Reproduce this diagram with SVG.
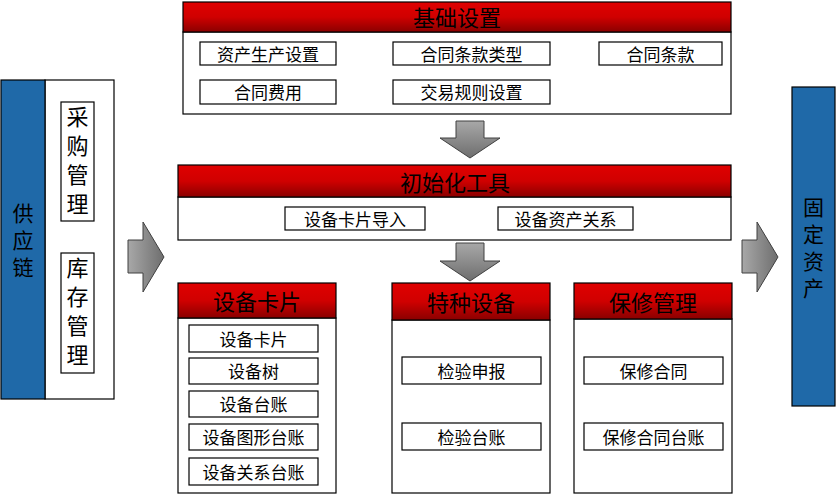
<svg xmlns="http://www.w3.org/2000/svg" width="836" height="496" viewBox="0 0 836 496">
<defs>
<linearGradient id="red" x1="0" y1="0" x2="0" y2="1">
<stop offset="0" stop-color="#e00000"/>
<stop offset="0.5" stop-color="#d00000"/>
<stop offset="1" stop-color="#8a0000"/>
</linearGradient>
<linearGradient id="grayV" x1="0" y1="0" x2="0" y2="1">
<stop offset="0" stop-color="#a8a8a8"/>
<stop offset="1" stop-color="#6e6e6e"/>
</linearGradient>
<linearGradient id="grayH" x1="0" y1="0" x2="1" y2="0">
<stop offset="0" stop-color="#a8a8a8"/>
<stop offset="1" stop-color="#6e6e6e"/>
</linearGradient>
</defs>
<style>
text{font-family:"Noto Sans CJK SC","Noto Sans",sans-serif;fill:#000;text-anchor:middle;dominant-baseline:central}
.hdr{fill:url(#red);stroke:#000;stroke-width:1.2}
.body{fill:#fff;stroke:#000;stroke-width:1.2}
.item{fill:#fff;stroke:#000;stroke-width:1.2}
.blue{fill:#1f69a8;stroke:#000;stroke-width:1.2}
.ht{font-size:22px}
.it{font-size:17px}
.vt{font-size:21px;writing-mode:vertical-rl;letter-spacing:6px}
.vt2{font-size:22px;writing-mode:vertical-rl;letter-spacing:7px}
.arrV{fill:url(#grayV);stroke:#404040;stroke-width:1}
.arrH{fill:url(#grayH);stroke:#404040;stroke-width:1}
</style>
<rect width="836" height="496" fill="#fff"/>

<g id="connectors">
<polygon class="arrV" points="456,121 484,121 484,138 500,138 470,158 440,138 456,138"/>
<polygon class="arrV" points="456,243 484,243 484,261 500,261 470,281 440,261 456,261"/>
<polygon class="arrH" points="128,240 143,240 143,222 164,257 143,292 143,273 128,273"/>
<polygon class="arrH" points="742,240 757,240 757,222 778,257 757,292 757,273 742,273"/>
</g>

<g id="basic-settings">
<rect class="body" x="183" y="32" width="548" height="82"/>
<rect class="hdr" x="183" y="2" width="548" height="30"/>
<text class="ht" x="457" y="16">基础设置</text>
<rect class="item" x="200" y="42" width="136" height="23"/><text class="it" x="268" y="53">资产生产设置</text>
<rect class="item" x="393" y="42" width="157" height="23"/><text class="it" x="471.5" y="53">合同条款类型</text>
<rect class="item" x="599" y="42" width="123" height="23"/><text class="it" x="660.5" y="53">合同条款</text>
<rect class="item" x="200" y="80" width="136" height="24"/><text class="it" x="268" y="91.5">合同费用</text>
<rect class="item" x="393" y="80" width="157" height="24"/><text class="it" x="471.5" y="91.5">交易规则设置</text>
</g>

<g id="init-tools">
<rect class="body" x="178" y="197" width="553" height="43"/>
<rect class="hdr" x="178" y="165" width="553" height="32"/>
<text class="ht" x="455" y="180.5">初始化工具</text>
<rect class="item" x="285" y="207" width="140" height="23"/><text class="it" x="355" y="218">设备卡片导入</text>
<rect class="item" x="498" y="207" width="135" height="23"/><text class="it" x="565.5" y="218">设备资产关系</text>
</g>

<g id="supply-chain">
<rect class="body" x="45" y="80" width="69" height="319"/>
<rect class="blue" x="1" y="80" width="44" height="319"/>
<text class="vt" x="23" y="243">供应链</text>
<rect class="item" x="61" y="102" width="33" height="119"/>
<text class="vt2" x="77.5" y="164">采购管理</text>
<rect class="item" x="61" y="253" width="33" height="120"/>
<text class="vt2" x="77.5" y="315">库存管理</text>
</g>

<g id="fixed-assets">
<rect class="blue" x="792" y="87" width="43" height="319"/>
<text class="vt" x="813.5" y="251">固定资产</text>
</g>

<g id="device-card">
<rect class="body" x="178" y="318" width="158" height="175"/>
<rect class="hdr" x="178" y="283" width="158" height="35"/>
<text class="ht" x="257" y="300">设备卡片</text>
<rect class="item" x="189" y="325" width="129" height="27"/><text class="it" x="253.5" y="338">设备卡片</text>
<rect class="item" x="189" y="358" width="129" height="26"/><text class="it" x="253.5" y="370.5">设备树</text>
<rect class="item" x="189" y="391" width="129" height="26"/><text class="it" x="253.5" y="403.5">设备台账</text>
<rect class="item" x="189" y="424" width="129" height="26"/><text class="it" x="253.5" y="436.5">设备图形台账</text>
<rect class="item" x="189" y="458" width="129" height="27"/><text class="it" x="253.5" y="471">设备关系台账</text>
</g>

<g id="special-equipment">
<rect class="body" x="392" y="320" width="158" height="173"/>
<rect class="hdr" x="392" y="283" width="158" height="37"/>
<text class="ht" x="471" y="301">特种设备</text>
<rect class="item" x="402" y="357" width="139" height="27"/><text class="it" x="471.5" y="370">检验申报</text>
<rect class="item" x="402" y="423" width="139" height="27"/><text class="it" x="471.5" y="436">检验台账</text>
</g>

<g id="warranty">
<rect class="body" x="574" y="319" width="158" height="174"/>
<rect class="hdr" x="574" y="283" width="158" height="36"/>
<text class="ht" x="653" y="301">保修管理</text>
<rect class="item" x="584" y="357" width="139" height="27"/><text class="it" x="653.5" y="370">保修合同</text>
<rect class="item" x="584" y="423" width="139" height="27"/><text class="it" x="653.5" y="436">保修合同台账</text>
</g>
</svg>
